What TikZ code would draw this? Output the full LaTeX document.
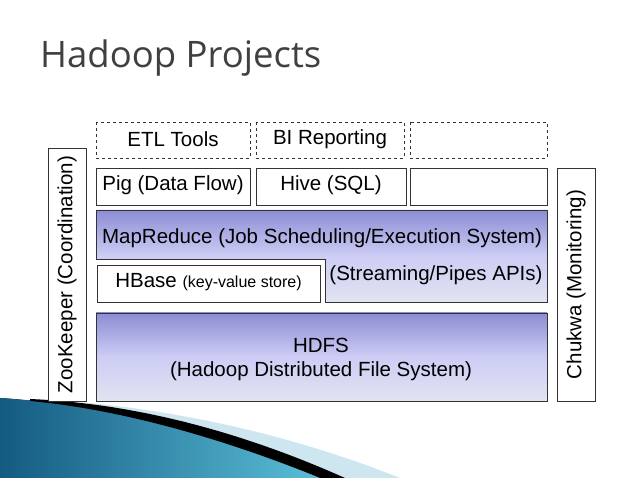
\documentclass[tikz,border=0pt]{standalone}
\usepackage{fontspec}
\setmainfont{Liberation Sans}
\newfontfamily\titlefont{Open Sans}
\definecolor{swlight}{RGB}{205,230,240}
\definecolor{swdark}{RGB}{20,90,130}
\definecolor{swmid}{RGB}{90,190,215}
\definecolor{lavtop}{RGB}{140,140,212}
\definecolor{lavmid}{RGB}{205,205,245}
\definecolor{lavbot}{RGB}{225,228,240}
\definecolor{titlegray}{RGB}{64,64,64}
\begin{document}
\begin{tikzpicture}[x=1pt,y=-1pt,
  plain/.style={draw=black!80,line width=0.9pt,fill=white},
  dbox/.style={draw=black!80,line width=0.9pt,dashed},
  lav/.style={draw=black!80,line width=0.9pt,top color=lavtop,bottom color=lavbot,middle color=lavmid},
  lbl/.style={font=\fontsize{20.5}{24}\selectfont}]
\useasboundingbox (0,0) rectangle (638,478);
% swoosh
\fill[left color=swdark,right color=swmid] (0,398) .. controls (120,406) and (240,440) .. (320,478) -- (0,478) -- cycle;
\fill[swlight] (80,402) .. controls (220,415) and (330,450) .. (400,478) -- (320,478) .. controls (240,445) and (140,412) .. (80,402) -- cycle;
\fill[black] (30,399) .. controls (150,404) and (260,440) .. (345,478) -- (320,478) .. controls (240,445) and (130,410) .. (30,401) -- cycle;
% title
\node[anchor=base west,inner sep=0,font=\titlefont\fontsize{36.5}{40}\selectfont,text=titlegray] (title) at (40,68) {Hadoop Projects};
% side boxes
\draw[plain] (48,148) rectangle (86,401);
\node[lbl,rotate=90] (zk) at (67,274.5) {ZooKeeper (Coordination)};
\draw[plain] (557,168) rectangle (595,401);
\node[lbl,rotate=90] (ch) at (576,284.5) {Chukwa (Monitoring)};
% dashed row
\draw[dbox] (96,122) rectangle (250,158);
\node[lbl] (etl) at (173,139) {ETL Tools};
\draw[dbox] (256,122) rectangle (404,158);
\node[lbl] (bi) at (330,139) {BI Reporting};
\draw[dbox] (410,122) rectangle (547,158);
% row 2
\draw[plain] (96,168) rectangle (250,205);
\node[lbl] (pig) at (173,185.5) {Pig (Data Flow)};
\draw[plain] (256,168) rectangle (406,205);
\node[lbl] (hive) at (331,185.5) {Hive (SQL)};
\draw[plain] (410,168) rectangle (547,205);
% mapreduce
\draw[lav] (96,210) -- (547,210) -- (547,302) -- (325,302) -- (325,259) -- (96,259) -- cycle;
\node[lbl] (mr) at (322,238) {MapReduce (Job Scheduling/Execution System)};
\node[lbl] (sp) at (436,275) {(Streaming/Pipes APIs)};
\draw[plain] (97,265) rectangle (320,302);
\node[lbl] (hb) at (208.5,282.5) {HBase {\fontsize{16}{18}\selectfont(key-value store)}};
% hdfs
\draw[lav] (96,313) rectangle (547,401);
\node[lbl,align=center] (hdfs) at (321,359) {HDFS\\(Hadoop Distributed File System)};
\end{tikzpicture}
\end{document}
